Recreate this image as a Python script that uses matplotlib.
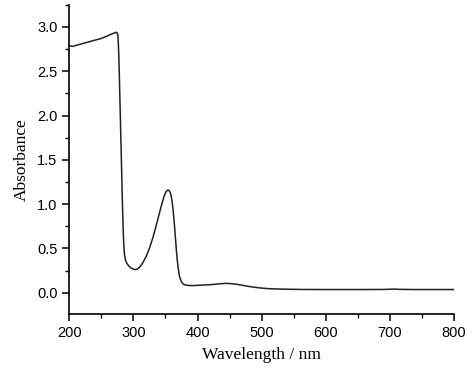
import numpy as np
import matplotlib.pyplot as plt
from matplotlib.ticker import MultipleLocator

plt.rcParams['font.family'] = ['Liberation Sans', 'DejaVu Sans']

wavelength = [200, 205, 210, 220, 230, 240, 250, 260, 266, 270, 273, 275, 276, 277,
              278, 279, 280, 281, 282, 283, 284, 285, 286, 288, 290, 293, 296, 300,
              303, 306, 310, 315, 320, 325, 330, 335, 340, 344, 348, 351, 354, 356,
              358, 360, 362, 364, 366, 368, 370, 372, 375, 378, 382, 388, 395, 405,
              420, 435, 445, 455, 465, 480, 495, 510, 530, 560, 600, 650, 690, 705,
              715, 740, 800]
absorbance = [2.79, 2.78, 2.79, 2.81, 2.83, 2.85, 2.87, 2.90, 2.92, 2.93, 2.94, 2.93, 2.90, 2.75,
              2.50, 2.20, 1.90, 1.60, 1.30, 1.00, 0.75, 0.55, 0.44, 0.36, 0.33, 0.30, 0.28, 0.265,
              0.26, 0.265, 0.29, 0.34, 0.41, 0.50, 0.61, 0.74, 0.88, 0.99, 1.09, 1.14, 1.16, 1.15,
              1.12, 1.05, 0.93, 0.77, 0.58, 0.40, 0.27, 0.18, 0.12, 0.095, 0.085, 0.08, 0.08, 0.085,
              0.09, 0.10, 0.105, 0.10, 0.09, 0.07, 0.055, 0.045, 0.04, 0.036, 0.035, 0.035, 0.036, 0.04,
              0.037, 0.035, 0.035]

plt.figure(figsize=(4.74, 3.68), dpi=100)
ax = plt.axes([0.146, 0.147, 0.812, 0.84])
ax.plot(wavelength, absorbance, color='#222222', linewidth=1.1)

ax.set_xlim(200, 800)
ax.set_ylim(-0.24, 3.25)
ax.xaxis.set_major_locator(MultipleLocator(100))
ax.xaxis.set_minor_locator(MultipleLocator(50))
ax.yaxis.set_major_locator(MultipleLocator(0.5))
ax.yaxis.set_minor_locator(MultipleLocator(0.25))

ax.spines['top'].set_visible(False)
ax.spines['right'].set_visible(False)
ax.spines['left'].set_linewidth(1.2)
ax.spines['bottom'].set_linewidth(1.2)
ax.tick_params(which='major', direction='out', length=5, width=1.1, labelsize=10.5)
ax.tick_params(which='minor', direction='out', length=3, width=1.0)

ax.set_xlabel('Wavelength / nm', fontfamily='Liberation Serif', fontsize=12.5, labelpad=5)
ax.set_ylabel('Absorbance', fontfamily='Liberation Serif', fontsize=12.5, labelpad=5)

plt.savefig('out.png', dpi=100)
